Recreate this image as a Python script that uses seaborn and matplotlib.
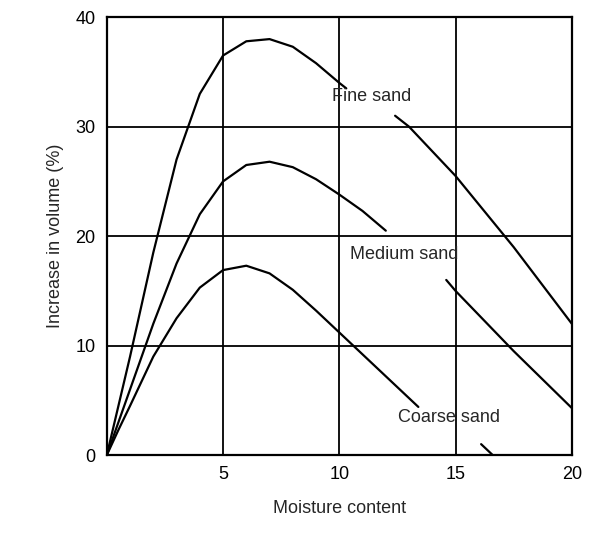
import numpy as np
import matplotlib
matplotlib.use("Agg")
import matplotlib.pyplot as plt
import seaborn as sns

sns.set_style("white")
plt.rcParams['font.family'] = ['Liberation Sans', 'DejaVu Sans']

fine_x = [0, 0.5, 1, 2, 3, 4, 5, 6, 7, 8, 9, 10, 10.3, np.nan, 12.4, 13, 15, 17.5, 20]
fine_y = [0, 4.5, 9, 18.5, 27, 33, 36.5, 37.8, 38, 37.3, 35.8, 34, 33.5, np.nan, 31, 30, 25.5, 19, 12]
med_x = [0, 0.5, 1, 2, 3, 4, 5, 6, 7, 8, 9, 10, 11, 12, np.nan, 14.6, 15, 17.5, 20]
med_y = [0, 3, 6, 12, 17.5, 22, 25, 26.5, 26.8, 26.3, 25.2, 23.8, 22.3, 20.5, np.nan, 16, 15, 9.5, 4.3]
coarse_x = [0, 0.5, 1, 2, 3, 4, 5, 6, 7, 8, 9, 10, 11, 12, 13, 13.4, np.nan, 16.1, 16.6]
coarse_y = [0, 2.3, 4.5, 9, 12.5, 15.3, 16.9, 17.3, 16.6, 15.1, 13.2, 11.2, 9.2, 7.2, 5.2, 4.4, np.nan, 1, 0]

def segments(xs, ys):
    segs, cx, cy = [], [], []
    for x, y in zip(xs, ys):
        if np.isnan(x):
            segs.append((cx, cy)); cx, cy = [], []
        else:
            cx.append(x); cy.append(y)
    segs.append((cx, cy))
    return segs

fig = plt.figure(figsize=(6, 5.55), dpi=100)
ax = fig.add_axes([0.178, 0.18, 0.775, 0.789])
for xs, ys in [(fine_x, fine_y), (med_x, med_y), (coarse_x, coarse_y)]:
    for sx, sy in segments(xs, ys):
        sns.lineplot(x=sx, y=sy, ax=ax, color='black', lw=1.6, sort=False, estimator=None)

ax.set_xlim(0, 20)
ax.set_ylim(0, 40)
ax.set_xticks([5, 10, 15, 20])
ax.set_yticks([0, 10, 20, 30, 40])
for v in [5, 10, 15]:
    ax.axvline(v, color='black', lw=1.3)
for v in [10, 20, 30]:
    ax.axhline(v, color='black', lw=1.3)
for s in ax.spines.values():
    s.set_color('black'); s.set_linewidth(1.6)
ax.tick_params(labelsize=13, length=0, pad=8, colors='black')
ax.set_xlabel("Moisture content", fontsize=13, labelpad=12)
ax.set_ylabel("Increase in volume (%)", fontsize=13, labelpad=8)
ax.text(11.4, 32.8, "Fine sand", fontsize=13, ha='center', va='center')
ax.text(12.8, 18.3, "Medium sand", fontsize=13, ha='center', va='center')
ax.text(14.7, 3.4, "Coarse sand", fontsize=13, ha='center', va='center')
fig.savefig("out.png", dpi=100)
